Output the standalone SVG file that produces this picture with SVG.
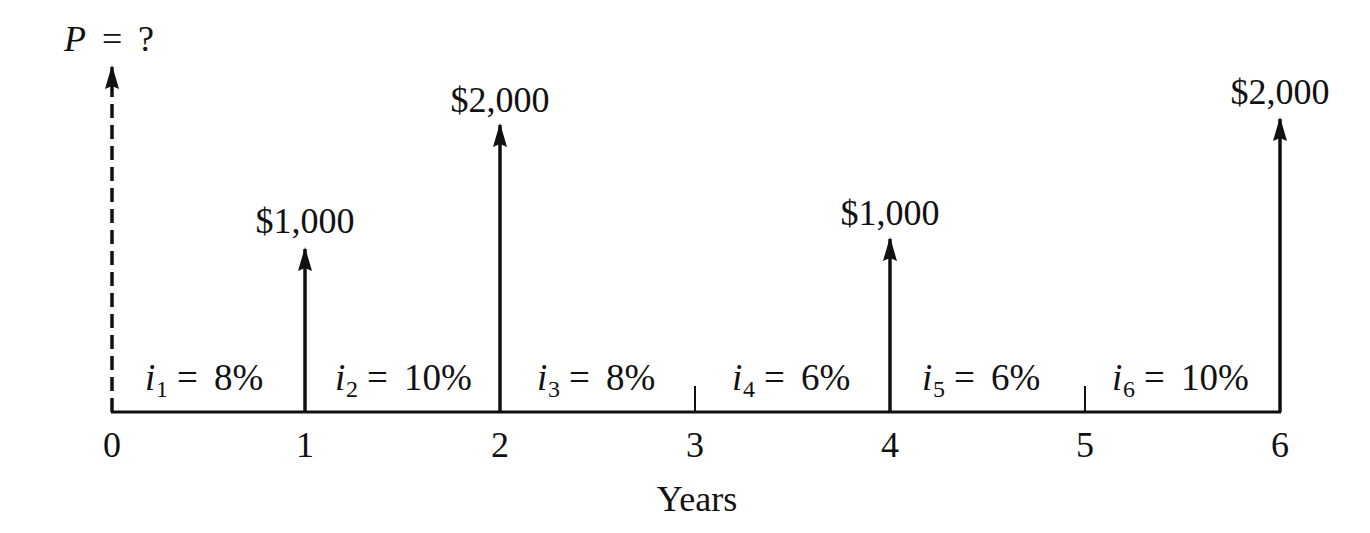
<svg xmlns="http://www.w3.org/2000/svg" width="1370" height="533" viewBox="0 0 1370 533">
<style>
text{font-family:"Liberation Serif","Times New Roman",serif;fill:#111;font-size:36px}
.c{text-anchor:middle}
.i{font-style:italic}
.r{font-size:37px}
.s{font-size:24px}
.flow{stroke:#111;stroke-width:3.5;fill:none}
.axis{stroke:#111;stroke-width:3;fill:none}
.tick{stroke:#111;stroke-width:2;fill:none}
</style>
<defs>
<marker id="ah" markerUnits="userSpaceOnUse" markerWidth="24" markerHeight="14" refX="22" refY="7" orient="auto" viewBox="0 0 24 14">
<path d="M24 7 L0 0 L3 7 L0 14 Z" fill="#111"/>
</marker>
</defs>
<rect width="1370" height="533" fill="#fff"/>
<g id="connectors">
<line class="axis" x1="111" y1="412" x2="1281" y2="412"/>
<line class="flow" x1="112" y1="412" x2="112" y2="67" stroke-dasharray="14,7" marker-end="url(#ah)"/>
<line class="flow" x1="305" y1="412" x2="305" y2="249" marker-end="url(#ah)"/>
<line class="flow" x1="500" y1="412" x2="500" y2="125" marker-end="url(#ah)"/>
<line class="flow" x1="890" y1="412" x2="890" y2="239" marker-end="url(#ah)"/>
<line class="flow" x1="1280" y1="412" x2="1280" y2="119" marker-end="url(#ah)"/>
<line class="tick" x1="695" y1="386" x2="695" y2="412"/>
<line class="tick" x1="1085" y1="386" x2="1085" y2="412"/>
</g>
<g id="labels">
<text y="51"><tspan class="i" x="64">P</tspan><tspan x="102">=</tspan><tspan x="138">?</tspan></text>
<text class="c" x="305" y="233">$1,000</text>
<text class="c" x="500" y="112">$2,000</text>
<text class="c" x="890" y="225">$1,000</text>
<text class="c" x="1280" y="104">$2,000</text>
</g>
<g id="rates">
<text class="r" y="390"><tspan class="i" x="145">i</tspan><tspan class="s" x="156" dy="7">1</tspan><tspan x="177" dy="-7">=</tspan><tspan x="214">8%</tspan></text>
<text class="r" y="390"><tspan class="i" x="335">i</tspan><tspan class="s" x="346" dy="7">2</tspan><tspan x="367" dy="-7">=</tspan><tspan x="404">10%</tspan></text>
<text class="r" y="390"><tspan class="i" x="537">i</tspan><tspan class="s" x="548" dy="7">3</tspan><tspan x="569" dy="-7">=</tspan><tspan x="606">8%</tspan></text>
<text class="r" y="390"><tspan class="i" x="732">i</tspan><tspan class="s" x="743" dy="7">4</tspan><tspan x="764" dy="-7">=</tspan><tspan x="801">6%</tspan></text>
<text class="r" y="390"><tspan class="i" x="922">i</tspan><tspan class="s" x="933" dy="7">5</tspan><tspan x="954" dy="-7">=</tspan><tspan x="991">6%</tspan></text>
<text class="r" y="390"><tspan class="i" x="1112">i</tspan><tspan class="s" x="1123" dy="7">6</tspan><tspan x="1144" dy="-7">=</tspan><tspan x="1181">10%</tspan></text>
</g>
<g id="ticks">
<text class="c" x="112" y="457">0</text>
<text class="c" x="305" y="457">1</text>
<text class="c" x="500" y="457">2</text>
<text class="c" x="695" y="457">3</text>
<text class="c" x="890" y="457">4</text>
<text class="c" x="1085" y="457">5</text>
<text class="c" x="1280" y="457">6</text>
<text class="c" x="697" y="511" font-size="39">Years</text>
</g>
</svg>
